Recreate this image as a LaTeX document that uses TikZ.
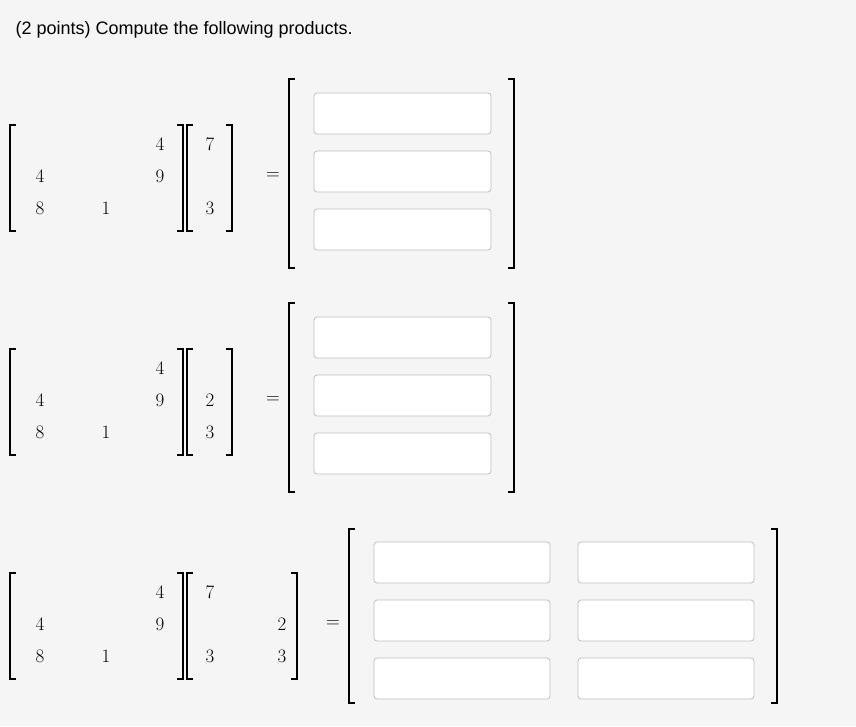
\documentclass[tikz,border=0pt]{standalone}
\usepackage{fontspec}
\newfontfamily\uifont{Liberation Sans}
\newcommand{\mi}{\char"2212}
\tikzset{
    entry/.style={font=\fontsize{19}{22}\selectfont},
    bracket/.style={line width=1.3pt},
    answerbox/.style={draw=black!25, fill=white, rounded corners=3pt, line width=0.8pt},
}
\newcommand{\brk}[4]{% left x, right x, top y, bottom y
    \draw[bracket] (#1+6,#3) -- (#1,#3) -- (#1,#4) -- (#1+6,#4);
    \draw[bracket] (#2-6,#3) -- (#2,#3) -- (#2,#4) -- (#2-6,#4);
}
\begin{document}
\begin{tikzpicture}[x=1pt,y=-1pt]
    \fill[black!4] (0,0) rectangle (856,726);
    \node[anchor=west, font=\uifont\fontsize{18}{21}\selectfont] (title) at (12,30) {(2 points) Compute the following products.};

    % first and second product
    \foreach \dy/\vec in {0/{7,\mi4,3}, 224/{\mi2,2,3}} {
        \brk{10}{183}{125+\dy}{231+\dy}
        \foreach \a/\b/\c [count=\r from 0] in {\mi4/\mi4/4, 4/\mi9/9, 8/1/\mi9} {
            \node[entry] at (40,144+32*\r+\dy) {\a};
            \node[entry] at (106,144+32*\r+\dy) {\b};
            \node[entry] at (160,144+32*\r+\dy) {\c};
        }
        \brk{187}{232}{125+\dy}{231+\dy}
        \foreach \v [count=\r from 0] in \vec
            \node[entry] at (210,144+32*\r+\dy) {\v};
        \node[entry] at (273,176+\dy) {=};
    }
    \brk{289}{514}{79}{268}
    \foreach \r in {0,1,2}
        \draw[answerbox] (314,93+58*\r) rectangle (491,134+58*\r);
    \brk{289}{514}{303}{492}
    \foreach \r in {0,1,2}
        \draw[answerbox] (314,317+58*\r) rectangle (491,358+58*\r);

    % third product
    \brk{10}{183}{573}{679}
    \foreach \a/\b/\c [count=\r from 0] in {\mi4/\mi4/4, 4/\mi9/9, 8/1/\mi9} {
        \node[entry] at (40,592+32*\r) {\a};
        \node[entry] at (106,592+32*\r) {\b};
        \node[entry] at (160,592+32*\r) {\c};
    }
    \brk{187}{297}{573}{679}
    \foreach \a/\b [count=\r from 0] in {7/\mi2, \mi4/2, 3/3} {
        \node[entry] at (210,592+32*\r) {\a};
        \node[entry] at (282,592+32*\r) {\b};
    }
    \node[entry] at (333,624) {=};
    \brk{349}{777}{529}{703}
    \foreach \r in {0,1,2} {
        \draw[answerbox] (374,542+58*\r) rectangle (550,583+58*\r);
        \draw[answerbox] (578,542+58*\r) rectangle (754,583+58*\r);
    }
\end{tikzpicture}
\end{document}
